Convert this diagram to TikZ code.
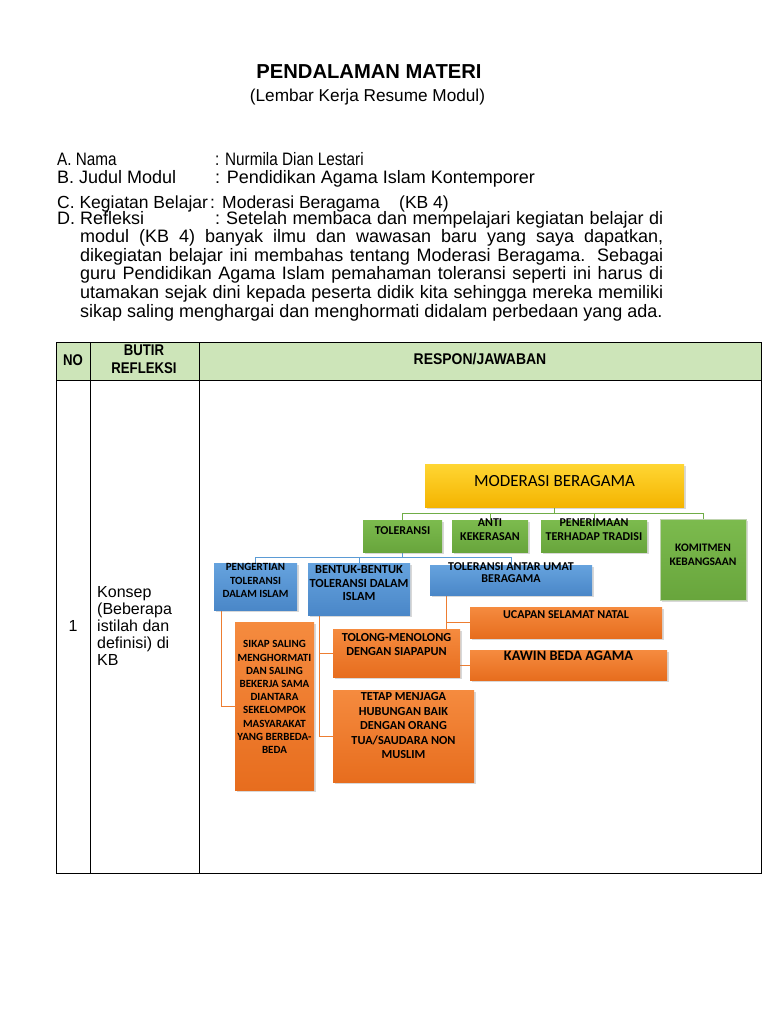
\documentclass[tikz,border=0pt]{standalone}
\usepackage{fontspec}
\usepackage{graphicx}
\setmainfont{Liberation Sans}
\newfontfamily\calib{Carlito}
\usetikzlibrary{shadows, backgrounds}

\definecolor{hdrgrn}{HTML}{CDE5B9}
\definecolor{boxyelT}{HTML}{FFD633}
\definecolor{boxyelB}{HTML}{F4B400}
\definecolor{boxgrnT}{HTML}{7CBB4E}
\definecolor{boxgrnB}{HTML}{68A53C}
\definecolor{boxbluT}{HTML}{66A3DE}
\definecolor{boxbluB}{HTML}{4A87C8}
\definecolor{boxorgT}{HTML}{F58B3F}
\definecolor{boxorgB}{HTML}{E76D1E}
\definecolor{lnkgrn}{HTML}{70AD47}
\definecolor{lnkblu}{HTML}{5B9BD5}
\definecolor{lnkorg}{HTML}{ED7D31}
\definecolor{kombord}{HTML}{BFD3AE}

\newcommand{\fs}[2]{\fontsize{#1}{#2}\selectfont}
\newcommand{\narrow}[1]{\scalebox{.85}[1]{#1}}
% text of a diagram box: width, height, lift (space under the text), lines
\newcommand{\btxt}[4]{\parbox[c][#2][c]{#1}{\centering #4\par\vspace{#3}}}

\begin{document}
\begin{tikzpicture}[
    x=1pt, y=-1pt,
    txt/.style={inner sep=0pt, anchor=base west, font=\fs{18}{18.5}},
    hdr/.style={inner sep=0pt, font=\bfseries\fs{15.5}{18}},
    box/.style={inner sep=0pt, font=\calib\bfseries, text=black,
      drop shadow={shadow xshift=1.5pt, shadow yshift=-1.5pt, opacity=.3}},
    ybox/.style={box, top color=boxyelT, bottom color=boxyelB},
    gbox/.style={box, top color=boxgrnT, bottom color=boxgrnB},
    bbox/.style={box, top color=boxbluT, bottom color=boxbluB},
    obox/.style={box, top color=boxorgT, bottom color=boxorgB},
    glink/.style={draw=lnkgrn, line width=1pt},
    blink/.style={draw=lnkblu, line width=1pt},
    olink/.style={draw=lnkorg, line width=1pt},
    rule/.style={draw=black, line width=0.8pt}
  ]
  \useasboundingbox (0,0) rectangle (768,1024);

  % heading
  \node[txt, anchor=base, font=\bfseries\fs{20.2}{22}] (title) at (369,79) {PENDALAMAN MATERI};
  \node[txt, anchor=base, font=\fs{17.2}{20}] (subtitle) at (367.5,102) {(Lembar Kerja Resume Modul)};

  \node[txt] (itemA) at (57,166) {\narrow{A. Nama}};
  \node[txt] (valA)  at (215,166) {\narrow{: Nurmila Dian Lestari}};
  \node[txt] (itemB) at (57,184) {B. Judul Modul};
  \node[txt] (valB)  at (215,184) {: Pendidikan Agama Islam Kontemporer};
  \node[txt, font=\fs{17.5}{18.5}] (itemC) at (57,209) {C. Kegiatan Belajar};
  \node[txt, font=\fs{17.5}{18.5}] (colC)  at (210,209) {:};
  \node[txt, font=\fs{17.5}{18.5}] (valC)  at (222,209) {Moderasi Beragama};
  \node[txt, font=\fs{17.5}{18.5}] (kbC)   at (399,209) {(KB 4)};
  \node[txt] (itemD) at (57,225) {D. Refleksi};
  \node[txt] (colD)  at (215,225) {:};
  \node[txt] (valD)  at (226,225) {\makebox[437pt][s]{Setelah membaca dan mempelajari kegiatan belajar di}};
  \node[txt] (parD1) at (80,243) {\makebox[583pt][s]{modul (KB 4) banyak ilmu dan wawasan baru yang saya dapatkan,}};
  \node[txt] (parD2) at (80,261) {\makebox[583pt][s]{dikegiatan belajar ini membahas tentang Moderasi Beragama. Sebagai}};
  \node[txt] (parD3) at (80,279) {\makebox[583pt][s]{guru Pendidikan Agama Islam pemahaman toleransi seperti ini harus di}};
  \node[txt] (parD4) at (80,298) {\makebox[583pt][s]{utamakan sejak dini kepada peserta didik kita sehingga mereka memiliki}};
  \node[txt] (parD5) at (80,317) {sikap saling menghargai dan menghormati didalam perbedaan yang ada.};

  % table
  \fill[hdrgrn] (56,342) rectangle (761,380);
  \draw[rule] (56,342) rectangle (761,873);
  \draw[rule] (56,380) -- (761,380);
  \draw[rule] (90,342) -- (90,873);
  \draw[rule] (199,342) -- (199,873);
  \node[hdr] (hdrNo) at (73,360) {\narrow{NO}};
  \node[hdr, align=center] (hdrButir) at (144,359) {\narrow{BUTIR}\\\narrow{REFLEKSI}};
  \node[hdr] (hdrRespon) at (480,359) {\scalebox{.9}[1]{RESPON/JAWABAN}};
  \node[font=\fs{16}{17}, inner sep=0pt] (rowNo) at (73,626) {1};
  \node[font=\fs{16}{17}, inner sep=0pt, anchor=north west, align=left] (rowButir) at (97,586)
    {Konsep\\(Beberapa\\istilah dan\\definisi) di\\KB};

  % diagram
  \node[ybox] (mod) at (554.5,485.5) {\btxt{259pt}{43pt}{9pt}{\mdseries\fs{17}{20}MODERASI BERAGAMA}};
  \node[gbox] (tol)  at (402.5,536) {\btxt{79pt}{32pt}{11pt}{\fs{12}{14}TOLERANSI}};
  \node[gbox] (anti) at (490,536) {\btxt{76pt}{32pt}{13pt}{\fs{12}{14}ANTI\\KEKERASAN}};
  \node[gbox] (pen)  at (594,536) {\btxt{106pt}{32pt}{13pt}{\fs{12}{14}PENERIMAAN\\TERHADAP TRADISI}};
  \node[gbox, draw=kombord, line width=.8pt] (kom) at (703,559.5) {\btxt{86pt}{81pt}{10pt}{\fs{11.5}{14}KOMITMEN\\KEBANGSAAN}};
  \node[bbox] (peng)  at (255.5,586.5) {\btxt{83pt}{47pt}{12pt}{\fs{11}{13.5}PENGERTIAN\\TOLERANSI\\DALAM ISLAM}};
  \node[bbox] (bent)  at (359,589) {\btxt{102pt}{52pt}{11pt}{\fs{12.4}{13.5}BENTUK-BENTUK\\TOLERANSI DALAM\\ISLAM}};
  \node[bbox] (antar) at (511,580) {\btxt{162pt}{30pt}{15pt}{\fs{12}{12}TOLERANSI ANTAR UMAT\\BERAGAMA}};
  \node[obox] (sikap)  at (274.5,706) {\btxt{79pt}{168pt}{18pt}{\fs{11}{13.2}SIKAP SALING\\MENGHORMATI\\DAN SALING\\BEKERJA SAMA\\DIANTARA\\SEKELOMPOK\\MASYARAKAT\\YANG BERBEDA-\\BEDA}};
  \node[obox] (tolong) at (396.5,653) {\btxt{127pt}{48pt}{17pt}{\fs{12.3}{14}TOLONG-MENOLONG\\DENGAN SIAPAPUN}};
  \node[obox] (tetap)  at (403.5,736) {\btxt{141pt}{92pt}{20pt}{\fs{12.3}{14.5}TETAP MENJAGA\\HUBUNGAN BAIK\\DENGAN ORANG\\TUA/SAUDARA NON\\MUSLIM}};
  \node[obox] (ucap)   at (566,622.5) {\btxt{192pt}{31pt}{16pt}{\fs{12}{14}UCAPAN SELAMAT NATAL}};
  \node[obox] (kawin)  at (568.5,665) {\btxt{197pt}{30pt}{19pt}{\fs{14.4}{16}KAWIN BEDA AGAMA}};

  \begin{pgfonlayer}{background}
    \fill[white] (0,0) rectangle (768,1024);
    \foreach \n in {tol,anti,pen,kom}
      \draw[glink] (mod.south) -- ++(0,6) -| (\n.north);
    \foreach \n in {peng,bent,antar}
      \draw[blink] (tol.south) -- ++(0,5) -| (\n.north);
    \draw[olink] ([xshift=8pt]peng.south west) |- (sikap.west);
    \foreach \n in {tolong,tetap}
      \draw[olink] ([xshift=12pt]bent.south west) |- (\n.west);
    \foreach \n in {ucap,kawin}
      \draw[olink] ([xshift=17pt]antar.south west) |- (\n.west);
  \end{pgfonlayer}
\end{tikzpicture}
\end{document}
